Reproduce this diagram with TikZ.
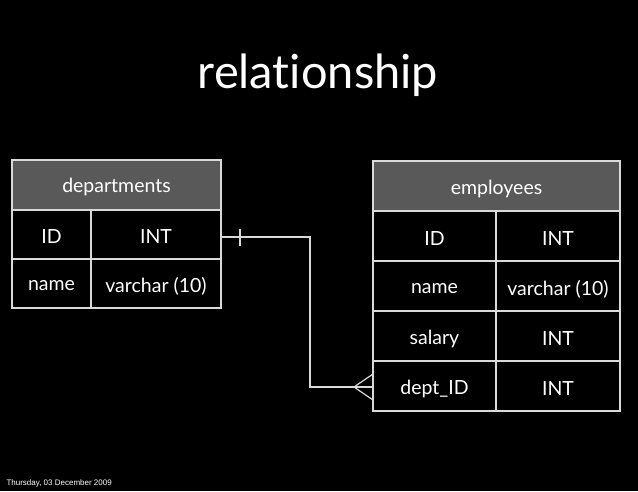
\documentclass[tikz,border=0pt]{standalone}
\usepackage{fontspec}
\setmainfont[Ligatures={NoCommon,NoDiscretionary}]{Lato}
\newfontfamily\footfont{Liberation Sans}
\begin{document}
\begin{tikzpicture}[x=1pt,y=-1pt,
  cell/.style={draw=white!85!black,line width=1.2pt,text=white,font=\fontsize{19.5}{22}\selectfont},
  hdr/.style={cell,fill=black!65!white},
  conn/.style={draw=white!85!black,line width=1.2pt}]
\fill[black] (0,0) rectangle (638,491);
\useasboundingbox (0,0) rectangle (638,491);
\node[text=white,font=\fontsize{47}{50}\selectfont] (title) at (318,75) {relationship};
% departments
\draw[hdr] (12,160) rectangle (221,210);
\node[text=white,font=\fontsize{19.5}{22}\selectfont] (dh) at (116.5,187) {departments};
\draw[cell] (12,210) rectangle (91,259) (91,210) rectangle (221,259)
            (12,259) rectangle (91,308) (91,259) rectangle (221,308);
\node[cell,draw=none] (d1a) at (51.5,237) {ID};
\node[cell,draw=none] (d1b) at (156,237) {INT};
\node[cell,draw=none] (d2a) at (51.5,286) {name};
\node[cell,draw=none] (d2b) at (156,286) {varchar (10)};
\coordinate (dR) at (221,237);
% employees
\draw[hdr] (373,161) rectangle (620,211);
\node[text=white,font=\fontsize{19.5}{22}\selectfont] (eh) at (496.5,189) {employees};
\foreach \y in {211,261,311,361}{
  \draw[cell] (373,\y) rectangle (496,\y+50) (496,\y) rectangle (620,\y+50);}
\node[cell,draw=none] (e1a) at (434.5,239) {ID};
\node[cell,draw=none] (e1b) at (558,239) {INT};
\node[cell,draw=none] (e2a) at (434.5,289) {name};
\node[cell,draw=none] (e2b) at (558,289) {varchar (10)};
\node[cell,draw=none] (e3a) at (434.5,339) {salary};
\node[cell,draw=none] (e3b) at (558,339) {INT};
\node[cell,draw=none] (e4a) at (434.5,389) {dept\_ID};
\node[cell,draw=none] (e4b) at (558,389) {INT};
\coordinate (eL) at (373,387);
% connector
\draw[conn] (dR) -- (310,237) -- (310,387) -- (eL);
\draw[conn] (240,229) -- (240,246);
\draw[conn] (373,374) -- (354,387) -- (373,400);
\node[anchor=west,text=white,font=\footfont\fontsize{8}{9}\selectfont] (foot) at (3,483) {Thursday, 03 December 2009};
\end{tikzpicture}
\end{document}
